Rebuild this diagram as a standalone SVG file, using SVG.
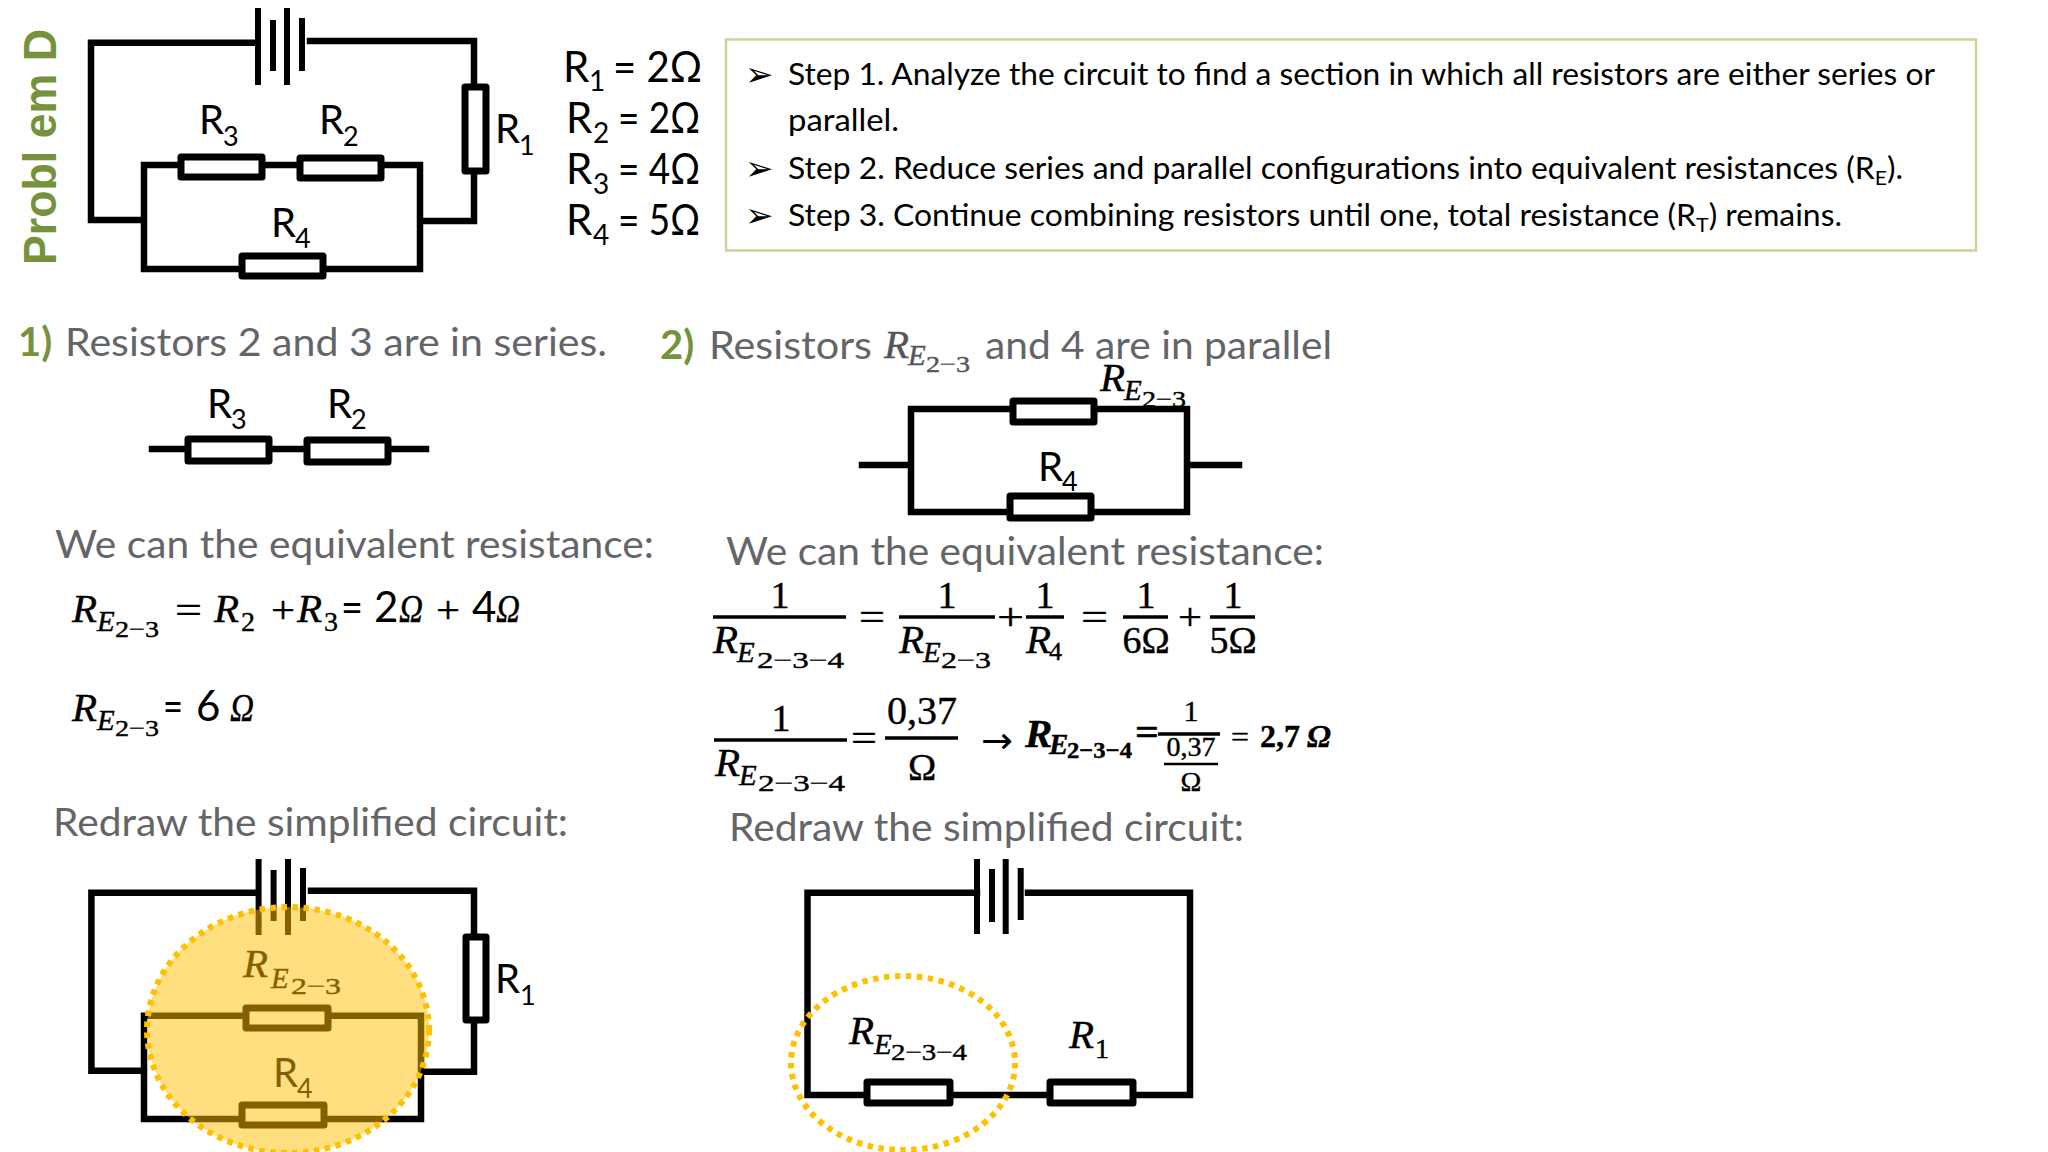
<svg xmlns="http://www.w3.org/2000/svg" width="2048" height="1152" viewBox="0 0 2048 1152">
<style>
text{fill:#000}
.w{fill:none;stroke:#000;stroke-width:6.500;stroke-linecap:square;stroke-linejoin:miter}
.b{stroke:#000;stroke-width:6;fill:none}
.r{fill:#fff;stroke:#000;stroke-width:7;stroke-linejoin:round}
.l{font-family:Lato,"Liberation Sans",sans-serif;font-size:40px}
.ls{font-family:Lato,"Liberation Sans",sans-serif;font-size:27px}
.li{font-family:Lato,"Liberation Sans",sans-serif;font-size:42px}
.lis{font-family:Lato,"Liberation Sans",sans-serif;font-size:28px}
.st{font-family:Lato,"Liberation Sans",sans-serif;font-size:30px}
.ar{font-family:"DejaVu Sans",sans-serif;font-size:34px}
.h{font-family:Lato,"Open Sans",sans-serif;font-size:39px;fill:#646569}
.n{font-family:Lato,"Open Sans",sans-serif;font-size:40px;font-weight:700;fill:#76923c}
.m,.m1,.m2,.u{stroke:#000;stroke-width:.4}
.m{font-family:"Liberation Serif",serif;font-style:italic;font-size:41px}
.m1{font-family:"Liberation Serif",serif;font-style:italic;font-size:29px}
.m2{font-family:"Liberation Serif",serif;font-size:24px}
.u{font-family:"Liberation Serif",serif;font-size:38px}
.c{text-anchor:middle}
.f{stroke:#000;stroke-width:3.500;fill:none}
.z{fill:#ffc000;fill-opacity:.5;stroke:#ffc000;stroke-width:6;stroke-dasharray:5.500 5.500}
.zo{fill:none;stroke:#ffc000;stroke-width:6;stroke-dasharray:5.500 5.500}
.bd{font-weight:700}
.g{fill:#555;stroke:#555}
</style>
<rect width="2048" height="1152" fill="#fff"/>

<g id="title"><text transform="translate(56 265) rotate(-90)" textLength="236" lengthAdjust="spacingAndGlyphs" style="font-family:'Liberation Sans',sans-serif;font-size:47px;font-weight:700;fill:#76923c">Probl em D</text></g>

<g id="circuit-main">
 <g id="connectors-main">
  <path class="w" d="M255 42.700H91V220H144M310 41H474V221H422M144 269V165H420V269Z"/>
 </g>
 <g id="battery-main"><path class="b" d="M258 8V85M273 20V71M287 8V85M302 18V71"/></g>
 <g id="R1-main"><rect class="r" x="465" y="87" width="21" height="84"/><text class="l" x="495" y="143">R</text><text class="ls" x="519" y="155">1</text></g>
 <g id="R3-main"><rect class="r" x="181" y="157" width="81" height="20"/><text class="l" x="199" y="134">R</text><text class="ls" x="223" y="146">3</text></g>
 <g id="R2-main"><rect class="r" x="300" y="158" width="81" height="20"/><text class="l" x="319" y="134">R</text><text class="ls" x="343" y="146">2</text></g>
 <g id="R4-main"><rect class="r" x="242" y="256" width="81" height="20"/><text class="l" x="271" y="237">R</text><text class="ls" x="295" y="248">4</text></g>
</g>

<g id="values">
 <text class="li" x="563" y="82">R</text><text class="lis" x="589" y="91">1</text><text class="li" x="613" y="82" textLength="89" lengthAdjust="spacingAndGlyphs">= 2Ω</text>
 <text class="li" x="566" y="133">R</text><text class="lis" x="593" y="143">2</text><text class="li" x="618" y="133" textLength="82" lengthAdjust="spacingAndGlyphs">= 2Ω</text>
 <text class="li" x="566" y="184">R</text><text class="lis" x="593" y="194">3</text><text class="li" x="618" y="184" textLength="82" lengthAdjust="spacingAndGlyphs">= 4Ω</text>
 <text class="li" x="566" y="235">R</text><text class="lis" x="593" y="245">4</text><text class="li" x="618" y="235" textLength="82" lengthAdjust="spacingAndGlyphs">= 5Ω</text>
</g>

<g id="steps">
 <rect x="726" y="39.500" width="1250" height="211" fill="#fff" stroke="#c3d69b" stroke-width="2.500"/>
 <text class="ar" x="745" y="86">➢</text>
 <text class="st" x="788" y="85" textLength="1147" lengthAdjust="spacingAndGlyphs">Step 1. Analyze the circuit to find a section in which all resistors are either series or</text>
 <text class="st" x="788" y="131" textLength="111" lengthAdjust="spacingAndGlyphs">parallel.</text>
 <text class="ar" x="745" y="180">➢</text>
 <text class="st" x="788" y="179" textLength="1115" lengthAdjust="spacingAndGlyphs">Step 2. Reduce series and parallel configurations into equivalent resistances (R<tspan font-size="20" dy="6">E</tspan><tspan dy="-6">).</tspan></text>
 <text class="ar" x="745" y="227">➢</text>
 <text class="st" x="788" y="226" textLength="1054" lengthAdjust="spacingAndGlyphs">Step 3. Continue combining resistors until one, total resistance (R<tspan font-size="20" dy="6">T</tspan><tspan dy="-6">) remains.</tspan></text>
</g>

<g id="section-1">
 <text class="n" x="18" y="356">1)</text>
 <text class="h" x="65" y="356" textLength="542" lengthAdjust="spacingAndGlyphs">Resistors 2 and 3 are in series.</text>
 <g id="connectors-series"><path class="w" d="M152 449H426"/></g>
 <g id="R3-series"><rect class="r" x="188" y="439" width="81" height="22"/><text class="l" x="207" y="418">R</text><text class="ls" x="231" y="429">3</text></g>
 <g id="R2-series"><rect class="r" x="307" y="440" width="81" height="22"/><text class="l" x="327" y="418">R</text><text class="ls" x="351" y="429">2</text></g>
 <text class="h" x="55" y="558" textLength="599" lengthAdjust="spacingAndGlyphs">We can the equivalent resistance:</text>
 <g id="eq-series">
  <text class="m" x="72" y="622">R</text><text class="m1" x="97" y="631">E</text><text class="m2" x="115" y="637" textLength="44" lengthAdjust="spacingAndGlyphs">2−3</text>
  <text class="u" x="175" y="623" textLength="27" lengthAdjust="spacingAndGlyphs">=</text>
  <text class="m" x="214" y="622">R</text><text class="m2" x="241" y="631" style="font-size:28px">2</text>
  <text class="u" x="271" y="623" textLength="24" lengthAdjust="spacingAndGlyphs">+</text>
  <text class="m" x="297" y="622">R</text><text class="m2" x="324" y="631" style="font-size:28px">3</text>
  <text class="li" x="341" y="622" textLength="22" lengthAdjust="spacingAndGlyphs">=</text>
  <text class="li" x="374" y="622">2</text><text class="m" x="399" y="622" textLength="24" lengthAdjust="spacingAndGlyphs">Ω</text>
  <text class="u" x="436" y="623" textLength="24" lengthAdjust="spacingAndGlyphs">+</text>
  <text class="li" x="472" y="622">4</text><text class="m" x="496" y="622" textLength="24" lengthAdjust="spacingAndGlyphs">Ω</text>
  <text class="m" x="72" y="721">R</text><text class="m1" x="97" y="730">E</text><text class="m2" x="115" y="736" textLength="44" lengthAdjust="spacingAndGlyphs">2−3</text>
  <text class="li" x="163" y="721" textLength="20" lengthAdjust="spacingAndGlyphs">=</text>
  <text class="li" x="196" y="721">6</text><text class="m" x="230" y="721" textLength="24" lengthAdjust="spacingAndGlyphs">Ω</text>
 </g>
 <text class="h" x="53" y="836" textLength="515" lengthAdjust="spacingAndGlyphs">Redraw the simplified circuit:</text>
</g>

<g id="circuit-1">
 <g id="connectors-1"><path class="w" d="M255 892.700H91.400V1070.700H144M311 890.700H474V1071.700H421M144 1119V1015.700H421V1119Z"/></g>
 <g id="battery-1"><path class="b" d="M258.600 859V935M273.600 870V921M288 859V935M303 868V921"/></g>
 <g id="R1-1"><rect class="r" x="466" y="937" width="20" height="83"/><text class="l" x="495" y="993">R</text><text class="ls" x="520" y="1005">1</text></g>
 <g id="RE-1"><rect class="r" x="246" y="1008" width="82" height="20"/><text class="m" x="243" y="977">R</text><text class="m1" x="271" y="988">E</text><text class="m2" x="291" y="994" textLength="50" lengthAdjust="spacingAndGlyphs">2−3</text></g>
 <g id="R4-1"><rect class="r" x="242" y="1105" width="82" height="20"/><text class="l" x="273" y="1087">R</text><text class="ls" x="297" y="1098">4</text></g>
 <ellipse id="highlight-1" class="z" cx="288" cy="1030" rx="141" ry="123"/>
</g>

<g id="section-2">
 <text class="n" x="660" y="359">2)</text>
 <text class="h" x="709" y="359" textLength="163" lengthAdjust="spacingAndGlyphs">Resistors</text>
 <text class="m g" x="884" y="358">R</text><text class="m1 g" x="908" y="365">E</text><text class="m2 g" x="926" y="372" textLength="44" lengthAdjust="spacingAndGlyphs">2−3</text>
 <text class="h" x="985" y="359" textLength="347" lengthAdjust="spacingAndGlyphs">and 4 are in parallel</text>
 <g id="connectors-parallel"><path class="w" d="M911 409H1187V512H911ZM862 465H911M1187 465H1239"/></g>
 <g id="RE-parallel"><rect class="r" x="1013" y="401" width="81" height="21"/><text class="m" x="1100" y="391">R</text><text class="m1" x="1124" y="400">E</text><text class="m2" x="1142" y="407" textLength="44" lengthAdjust="spacingAndGlyphs">2−3</text></g>
 <g id="R4-parallel"><rect class="r" x="1010" y="496" width="81" height="22"/><text class="l" x="1038" y="481">R</text><text class="ls" x="1062" y="491">4</text></g>
 <text class="h" x="726" y="565" textLength="598" lengthAdjust="spacingAndGlyphs">We can the equivalent resistance:</text>

 <g id="eq-parallel">
  <path class="f" d="M713 617H846M899 617H995M1026 617H1064M1123 617H1168M1210 617H1255M714 740H847M885 738H958M1158 734H1220"/>
  <path d="M1164 764H1218" stroke="#000" stroke-width="2.500"/>
  <text class="u c" x="780" y="608">1</text>
  <text class="m" x="713" y="653">R</text><text class="m1" x="737" y="662">E</text><text class="m2" x="757" y="668" textLength="87" lengthAdjust="spacingAndGlyphs">2−3−4</text>
  <text class="u" x="859" y="630" textLength="26" lengthAdjust="spacingAndGlyphs">=</text>
  <text class="u c" x="947" y="608">1</text>
  <text class="m" x="899" y="653">R</text><text class="m1" x="923" y="662">E</text><text class="m2" x="941" y="668" textLength="50" lengthAdjust="spacingAndGlyphs">2−3</text>
  <text class="u" x="997" y="630" textLength="27" lengthAdjust="spacingAndGlyphs">+</text>
  <text class="u c" x="1045" y="608">1</text>
  <text class="m" x="1026" y="653">R</text><text class="m2" x="1049" y="660" style="font-size:26px">4</text>
  <text class="u" x="1081" y="630" textLength="27" lengthAdjust="spacingAndGlyphs">=</text>
  <text class="u c" x="1146" y="608">1</text><text class="u c" x="1146" y="653">6Ω</text>
  <text class="u" x="1178" y="630" textLength="24" lengthAdjust="spacingAndGlyphs">+</text>
  <text class="u c" x="1233" y="608">1</text><text class="u c" x="1233" y="653">5Ω</text>

  <text class="u c" x="781" y="731">1</text>
  <text class="m" x="715" y="776">R</text><text class="m1" x="739" y="785">E</text><text class="m2" x="758" y="791" textLength="87" lengthAdjust="spacingAndGlyphs">2−3−4</text>
  <text class="u" x="851" y="751" textLength="26" lengthAdjust="spacingAndGlyphs">=</text>
  <text class="u c" x="922" y="724" style="font-size:40px">0,37</text><text class="u c" x="922" y="780">Ω</text>
  <text x="981" y="753" textLength="32" lengthAdjust="spacingAndGlyphs" style="font-family:'DejaVu Sans',sans-serif;font-size:36px">→</text>
  <text class="m bd" x="1025" y="747">R</text><text class="m1 bd" x="1049" y="754">E</text><text class="m2 bd" x="1067" y="758" textLength="65" lengthAdjust="spacingAndGlyphs">2−3−4</text>
  <text class="u bd" x="1135" y="745" textLength="24" lengthAdjust="spacingAndGlyphs">=</text>
  <text class="u c" x="1191" y="721" style="font-size:30px">1</text>
  <text class="u c" x="1191" y="756" style="font-size:28px">0,37</text>
  <text class="u c" x="1191" y="791" style="font-size:28px">Ω</text>
  <text class="u" x="1231" y="746" textLength="18" lengthAdjust="spacingAndGlyphs" style="font-size:28px">=</text>
  <text class="u bd" x="1260" y="747" style="font-size:32px">2,7</text>
  <text class="m bd" x="1307" y="747" style="font-size:32px">Ω</text>
 </g>
 <text class="h" x="729" y="841" textLength="515" lengthAdjust="spacingAndGlyphs">Redraw the simplified circuit:</text>
</g>

<g id="circuit-2">
 <g id="connectors-2"><path class="w" d="M977 892.700H807.500V1095H1190V892.700H1028"/></g>
 <g id="battery-2"><path class="b" d="M977 859V934M992 869V922M1005.700 859V934M1020.700 868V920"/></g>
 <g id="RE-2"><rect class="r" x="867" y="1082" width="83" height="21"/><text class="m" x="849" y="1044">R</text><text class="m1" x="874" y="1054">E</text><text class="m2" x="891" y="1060" textLength="76" lengthAdjust="spacingAndGlyphs">2−3−4</text></g>
 <g id="R1-2"><rect class="r" x="1050" y="1082" width="83" height="21"/><text class="m" x="1069" y="1048">R</text><text class="m2" x="1095" y="1058" style="font-size:28px">1</text></g>
 <ellipse id="highlight-2" class="zo" cx="903" cy="1063" rx="112" ry="87"/>
</g>
</svg>
